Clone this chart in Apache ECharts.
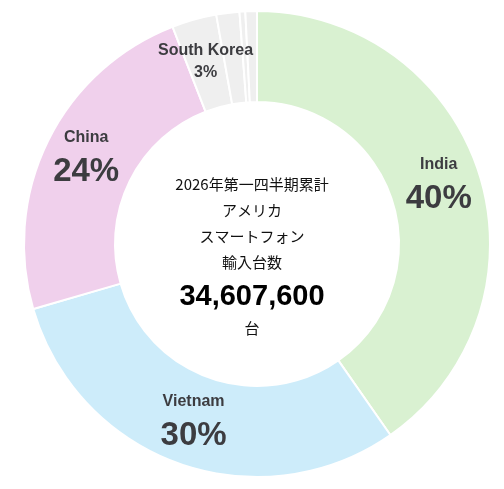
<!DOCTYPE html>
<html>
<head>
<meta charset="utf-8">
<script src="https://cdn.jsdelivr.net/npm/echarts@6/dist/echarts.min.js"></script>
<style>
  html, body { margin: 0; padding: 0; background: #fff; }
  #chart { width: 504px; height: 489px; }
</style>
</head>
<body>
<div id="chart"></div>
<script>
  // 国別シェア（%）
  var countries = ['India', 'Vietnam', 'China', 'South Korea', 'その他A', 'その他B', 'その他C'];
  var shares = [40.3, 30.2, 23.6, 3.1, 1.6, 0.4, 0.8];
  var colors = ['#d9f1d1', '#cdecfa', '#f0d0ec', '#efefef', '#efefef', '#efefef', '#efefef'];
  var showLabel = [true, true, true, true, false, false, false];

  var centerLines = ['2026年第一四半期累計', 'アメリカ', 'スマートフォン', '輸入台数'];
  var totalUnits = '34,607,600';
  var unitLabel = '台';

  var chart = echarts.init(document.getElementById('chart'));

  var pieData = countries.map(function (name, i) {
    var big = name !== 'South Korea';
    return {
      name: name,
      value: shares[i],
      itemStyle: { color: colors[i] },
      label: {
        show: showLabel[i],
        formatter: function (p) {
          return '{n|' + p.name + '}\n{' + (big ? 'p' : 'q') + '|' + Math.round(p.percent) + '%}';
        }
      }
    };
  });

  var sans = 'Liberation Sans';

  chart.setOption({
    animation: false,
    series: [{
      type: 'pie',
      center: [257, 244],
      radius: [142, 233],
      startAngle: 90,
      clockwise: true,
      silent: true,
      itemStyle: { borderColor: '#fff', borderWidth: 2 },
      label: {
        position: 'inside',
        color: '#3c3c40',
        fontFamily: sans,
        rich: {
          n: { fontSize: 16, fontWeight: 'bold', color: '#3c3c40', fontFamily: sans, lineHeight: 24 },
          p: { fontSize: 33, fontWeight: 'bold', color: '#3c3c40', fontFamily: sans, lineHeight: 44 },
          q: { fontSize: 16, fontWeight: 'bold', color: '#3c3c40', fontFamily: sans, lineHeight: 20 }
        }
      },
      labelLine: { show: false },
      data: pieData
    }],
    graphic: [{
      type: 'text',
      left: 'center',
      top: 177,
      style: {
        text: centerLines.map(function (t) { return '{a|' + t + '}'; }).join('\n') +
          '\n{b|' + totalUnits + '}\n{c|' + unitLabel + '}',
        align: 'center',
        fill: '#111',
        rich: {
          a: { fontSize: 15, lineHeight: 26, align: 'center', fontFamily: 'Noto Sans CJK JP', fill: '#111' },
          b: { fontSize: 29, lineHeight: 42, align: 'center', fontWeight: 'bold', fontFamily: sans, fill: '#000' },
          c: { fontSize: 15, lineHeight: 22, align: 'center', fontFamily: 'Noto Sans CJK JP', fill: '#111' }
        }
      }
    }]
  });
</script>
</body>
</html>
